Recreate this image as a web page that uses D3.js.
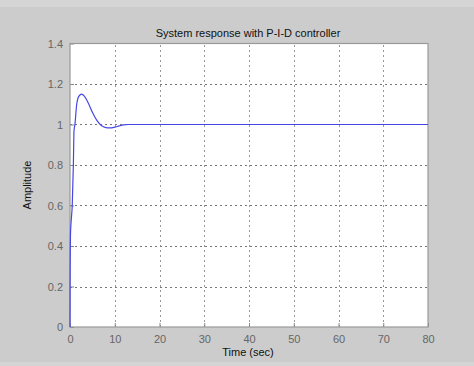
<!DOCTYPE html>
<html><head><meta charset="utf-8">
<script src="https://cdn.jsdelivr.net/npm/d3@7"></script>
<style>body{margin:0;background:#cccccc;}svg{display:block;}</style>
</head><body>
<script>
const timeValues = [0, 0.02, 0.05, 0.1, 0.25, 0.5, 0.75, 0.9, 1.1, 1.5, 2.0, 2.6, 3.2, 4.0, 5.0, 6.0, 7.0, 8.0, 8.9, 10.0, 11.0, 12.0, 13.0, 20, 40, 60, 80];
const amplitudeValues = [0, 0.22, 0.35, 0.45, 0.52, 0.6, 0.8, 0.97, 1.0, 1.1, 1.14, 1.15, 1.14, 1.11, 1.06, 1.02, 0.995, 0.985, 0.983, 0.987, 0.993, 0.998, 1.0, 1.0, 1.0, 1.0, 1.0];
const xTicks = [0, 10, 20, 30, 40, 50, 60, 70, 80];
const yTicks = [0, 0.2, 0.4, 0.6, 0.8, 1, 1.2, 1.4];
const title = "System response with P-I-D controller";
const xLabel = "Time (sec)";
const yLabel = "Amplitude";

const W = 474, H = 366;
const m = {left: 70, right: 46, top: 43.5, bottom: 39};
const svg = d3.select("body").append("svg").attr("width", W).attr("height", H);
svg.append("rect").attr("width", W).attr("height", H).attr("fill", "#cccccc");
svg.append("rect").attr("width", W).attr("height", 7).attr("fill", "#d5d5d5");
svg.append("rect").attr("y", 362).attr("width", W).attr("height", 4).attr("fill", "#d5d5d5");

const x = d3.scaleLinear().domain([0, 80]).range([m.left, W - m.right]);
const y = d3.scaleLinear().domain([0, 1.4]).range([H - m.bottom, m.top]);

svg.append("rect").attr("x", x(0)).attr("y", y(1.4)).attr("width", x(80) - x(0)).attr("height", y(0) - y(1.4)).attr("fill", "#fff");

// grid
const g = svg.append("g");
g.selectAll("line.vx").data(xTicks.slice(1, -1)).join("line")
  .attr("x1", d => Math.round(x(d)) + 0.5).attr("x2", d => Math.round(x(d)) + 0.5)
  .attr("y1", y(0)).attr("y2", y(1.4))
  .attr("stroke", "#999").attr("stroke-dasharray", "2,3");
g.selectAll("line.hy").data(yTicks.slice(1, -1)).join("line")
  .attr("y1", d => Math.round(y(d)) + 0.5).attr("y2", d => Math.round(y(d)) + 0.5)
  .attr("x1", x(0)).attr("x2", x(80))
  .attr("stroke", "#777").attr("stroke-dasharray", "2,3");

// axes
const xAxis = svg.append("g").attr("transform", `translate(0,${y(0)})`)
  .call(d3.axisBottom(x).tickValues(xTicks).tickSize(4).tickPadding(4).tickFormat(d3.format("d")));
const yAxis = svg.append("g").attr("transform", `translate(${x(0)},0)`)
  .call(d3.axisLeft(y).tickValues(yTicks).tickSize(4).tickPadding(3).tickFormat(d => d === 0 || d === 1 ? d3.format("d")(d) : d3.format(".1f")(d)));
[xAxis, yAxis].forEach(a => {
  a.select(".domain").remove();
  a.selectAll(".tick line").attr("stroke", "#888").attr("x2", a === yAxis ? 4 : 0).attr("y2", a === xAxis ? -4 : 0);
  a.selectAll("text").attr("fill", "#666").style("font-family", "Liberation Sans, Arial, sans-serif").style("font-size", "11px");
});
// frame
svg.append("rect").attr("x", x(0)).attr("y", y(1.4)).attr("width", x(80) - x(0)).attr("height", y(0) - y(1.4))
  .attr("fill", "none").attr("stroke", "#999").attr("stroke-width", 1.2);

// line
const line = d3.line().x((d, i) => x(timeValues[i])).y(d => y(d)).curve(d3.curveMonotoneX);
svg.append("path").datum(amplitudeValues).attr("d", line)
  .attr("fill", "none").attr("stroke", "#4646e6").attr("stroke-width", 1.2);

// texts
svg.append("text").attr("x", 248).attr("y", 37).attr("text-anchor", "middle")
  .style("font-family", "Liberation Sans, Arial, sans-serif").style("font-size", "11px").attr("fill", "#111").text(title);
svg.append("text").attr("x", 248).attr("y", 356).attr("text-anchor", "middle")
  .style("font-family", "Liberation Sans, Arial, sans-serif").style("font-size", "11px").attr("fill", "#111").text(xLabel);
svg.append("text").attr("transform", "translate(31,185) rotate(-90)").attr("text-anchor", "middle")
  .style("font-family", "Liberation Sans, Arial, sans-serif").style("font-size", "11px").attr("fill", "#111").text(yLabel);
</script>
</body></html>
